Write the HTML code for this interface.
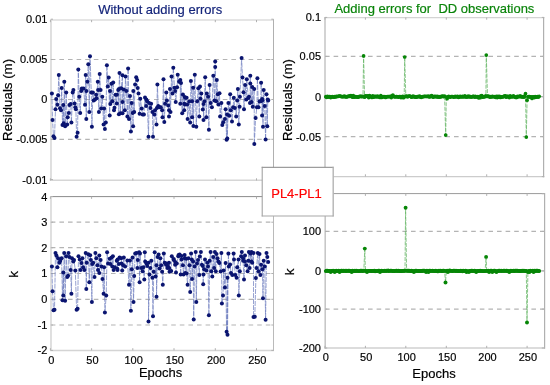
<!DOCTYPE html>
<html><head><meta charset="utf-8"><title>PL4-PL1</title>
<style>html,body{margin:0;padding:0;background:#fff;width:550px;height:385px;overflow:hidden;}svg{display:block;}</style>
</head><body>
<svg width="550" height="385" viewBox="0 0 550 385" font-family="'Liberation Sans', sans-serif" fill="#000">
<rect width="550" height="385" fill="#fff"/>
<line x1="50.8" y1="59.5" x2="273.5" y2="59.5" stroke="#b4b4b4" stroke-width="1.2" stroke-dasharray="4.6 4"/>
<line x1="50.8" y1="99.5" x2="273.5" y2="99.5" stroke="#b4b4b4" stroke-width="1.2" stroke-dasharray="4.6 4"/>
<line x1="50.8" y1="139.3" x2="273.5" y2="139.3" stroke="#b4b4b4" stroke-width="1.2" stroke-dasharray="4.6 4"/>
<line x1="50.2" y1="20" x2="274" y2="20" stroke="#dcdcdc" stroke-width="1.6"/>
<line x1="50.2" y1="180.3" x2="274" y2="180.3" stroke="#d6d6d6" stroke-width="1.5"/>
<line x1="51" y1="19.2" x2="51" y2="181" stroke="#d8d8d8" stroke-width="1.6"/>
<line x1="273.5" y1="19.2" x2="273.5" y2="181" stroke="#b0b0b0" stroke-width="1"/>
<line x1="50.4" y1="180.5" x2="50.4" y2="178.3" stroke="#b0b0b0"/>
<line x1="50.4" y1="20.0" x2="50.4" y2="22.2" stroke="#b0b0b0"/>
<line x1="91.6" y1="180.5" x2="91.6" y2="178.3" stroke="#b0b0b0"/>
<line x1="91.6" y1="20.0" x2="91.6" y2="22.2" stroke="#b0b0b0"/>
<line x1="132.8" y1="180.5" x2="132.8" y2="178.3" stroke="#b0b0b0"/>
<line x1="132.8" y1="20.0" x2="132.8" y2="22.2" stroke="#b0b0b0"/>
<line x1="174.0" y1="180.5" x2="174.0" y2="178.3" stroke="#b0b0b0"/>
<line x1="174.0" y1="20.0" x2="174.0" y2="22.2" stroke="#b0b0b0"/>
<line x1="215.3" y1="180.5" x2="215.3" y2="178.3" stroke="#b0b0b0"/>
<line x1="215.3" y1="20.0" x2="215.3" y2="22.2" stroke="#b0b0b0"/>
<line x1="256.5" y1="180.5" x2="256.5" y2="178.3" stroke="#b0b0b0"/>
<line x1="256.5" y1="20.0" x2="256.5" y2="22.2" stroke="#b0b0b0"/>
<line x1="50.8" y1="179.6" x2="53.0" y2="179.6" stroke="#b0b0b0"/>
<line x1="273.5" y1="179.6" x2="271.3" y2="179.6" stroke="#b0b0b0"/>
<text transform="translate(47.4,183.5) scale(1,1.05)" text-anchor="end" font-size="11" stroke="#000" stroke-width="0.18">-0.01</text>
<line x1="50.8" y1="139.3" x2="53.0" y2="139.3" stroke="#b0b0b0"/>
<line x1="273.5" y1="139.3" x2="271.3" y2="139.3" stroke="#b0b0b0"/>
<text transform="translate(47.4,143.2) scale(1,1.05)" text-anchor="end" font-size="11" stroke="#000" stroke-width="0.18">-0.005</text>
<line x1="50.8" y1="99.5" x2="53.0" y2="99.5" stroke="#b0b0b0"/>
<line x1="273.5" y1="99.5" x2="271.3" y2="99.5" stroke="#b0b0b0"/>
<text transform="translate(47.4,103.4) scale(1,1.05)" text-anchor="end" font-size="11" stroke="#000" stroke-width="0.18">0</text>
<line x1="50.8" y1="59.5" x2="53.0" y2="59.5" stroke="#b0b0b0"/>
<line x1="273.5" y1="59.5" x2="271.3" y2="59.5" stroke="#b0b0b0"/>
<text transform="translate(47.4,63.4) scale(1,1.05)" text-anchor="end" font-size="11" stroke="#000" stroke-width="0.18">0.005</text>
<line x1="50.8" y1="19.2" x2="53.0" y2="19.2" stroke="#b0b0b0"/>
<line x1="273.5" y1="19.2" x2="271.3" y2="19.2" stroke="#b0b0b0"/>
<text transform="translate(47.4,23.1) scale(1,1.05)" text-anchor="end" font-size="11" stroke="#000" stroke-width="0.18">0.01</text>
<line x1="50.8" y1="222.2" x2="273.5" y2="222.2" stroke="#b4b4b4" stroke-width="1.2" stroke-dasharray="4.6 4"/>
<line x1="50.8" y1="247.7" x2="273.5" y2="247.7" stroke="#b4b4b4" stroke-width="1.2" stroke-dasharray="4.6 4"/>
<line x1="50.8" y1="273.5" x2="273.5" y2="273.5" stroke="#b4b4b4" stroke-width="1.2" stroke-dasharray="4.6 4"/>
<line x1="50.8" y1="299.3" x2="273.5" y2="299.3" stroke="#b4b4b4" stroke-width="1.2" stroke-dasharray="4.6 4"/>
<line x1="50.8" y1="325.0" x2="273.5" y2="325.0" stroke="#b4b4b4" stroke-width="1.2" stroke-dasharray="4.6 4"/>
<line x1="50.2" y1="196.6" x2="274" y2="196.6" stroke="#8c8c8c" stroke-width="1"/>
<line x1="50.2" y1="350.4" x2="274" y2="350.4" stroke="#d4d4d4" stroke-width="1.5"/>
<line x1="51" y1="196" x2="51" y2="351" stroke="#d8d8d8" stroke-width="1.6"/>
<line x1="273.5" y1="196" x2="273.5" y2="351" stroke="#bababa" stroke-width="1"/>
<line x1="50.4" y1="350.4" x2="50.4" y2="348.2" stroke="#b0b0b0"/>
<line x1="50.4" y1="196.7" x2="50.4" y2="198.9" stroke="#b0b0b0"/>
<text transform="translate(51.2,363.6) scale(1,1.05)" text-anchor="middle" font-size="11" stroke="#000" stroke-width="0.18">0</text>
<line x1="91.6" y1="350.4" x2="91.6" y2="348.2" stroke="#b0b0b0"/>
<line x1="91.6" y1="196.7" x2="91.6" y2="198.9" stroke="#b0b0b0"/>
<text transform="translate(92.4,363.6) scale(1,1.05)" text-anchor="middle" font-size="11" stroke="#000" stroke-width="0.18">50</text>
<line x1="132.8" y1="350.4" x2="132.8" y2="348.2" stroke="#b0b0b0"/>
<line x1="132.8" y1="196.7" x2="132.8" y2="198.9" stroke="#b0b0b0"/>
<text transform="translate(133.6,363.6) scale(1,1.05)" text-anchor="middle" font-size="11" stroke="#000" stroke-width="0.18">100</text>
<line x1="174.0" y1="350.4" x2="174.0" y2="348.2" stroke="#b0b0b0"/>
<line x1="174.0" y1="196.7" x2="174.0" y2="198.9" stroke="#b0b0b0"/>
<text transform="translate(174.8,363.6) scale(1,1.05)" text-anchor="middle" font-size="11" stroke="#000" stroke-width="0.18">150</text>
<line x1="215.3" y1="350.4" x2="215.3" y2="348.2" stroke="#b0b0b0"/>
<line x1="215.3" y1="196.7" x2="215.3" y2="198.9" stroke="#b0b0b0"/>
<text transform="translate(216.1,363.6) scale(1,1.05)" text-anchor="middle" font-size="11" stroke="#000" stroke-width="0.18">200</text>
<line x1="256.5" y1="350.4" x2="256.5" y2="348.2" stroke="#b0b0b0"/>
<line x1="256.5" y1="196.7" x2="256.5" y2="198.9" stroke="#b0b0b0"/>
<text transform="translate(257.3,363.6) scale(1,1.05)" text-anchor="middle" font-size="11" stroke="#000" stroke-width="0.18">250</text>
<line x1="50.8" y1="350.4" x2="53.0" y2="350.4" stroke="#b0b0b0"/>
<line x1="273.5" y1="350.4" x2="271.3" y2="350.4" stroke="#b0b0b0"/>
<text transform="translate(47.4,354.3) scale(1,1.05)" text-anchor="end" font-size="11" stroke="#000" stroke-width="0.18">-2</text>
<line x1="50.8" y1="325.0" x2="53.0" y2="325.0" stroke="#b0b0b0"/>
<line x1="273.5" y1="325.0" x2="271.3" y2="325.0" stroke="#b0b0b0"/>
<text transform="translate(47.4,328.9) scale(1,1.05)" text-anchor="end" font-size="11" stroke="#000" stroke-width="0.18">-1</text>
<line x1="50.8" y1="299.3" x2="53.0" y2="299.3" stroke="#b0b0b0"/>
<line x1="273.5" y1="299.3" x2="271.3" y2="299.3" stroke="#b0b0b0"/>
<text transform="translate(47.4,303.2) scale(1,1.05)" text-anchor="end" font-size="11" stroke="#000" stroke-width="0.18">0</text>
<line x1="50.8" y1="273.5" x2="53.0" y2="273.5" stroke="#b0b0b0"/>
<line x1="273.5" y1="273.5" x2="271.3" y2="273.5" stroke="#b0b0b0"/>
<text transform="translate(47.4,277.4) scale(1,1.05)" text-anchor="end" font-size="11" stroke="#000" stroke-width="0.18">1</text>
<line x1="50.8" y1="247.7" x2="53.0" y2="247.7" stroke="#b0b0b0"/>
<line x1="273.5" y1="247.7" x2="271.3" y2="247.7" stroke="#b0b0b0"/>
<text transform="translate(47.4,251.6) scale(1,1.05)" text-anchor="end" font-size="11" stroke="#000" stroke-width="0.18">2</text>
<line x1="50.8" y1="222.2" x2="53.0" y2="222.2" stroke="#b0b0b0"/>
<line x1="273.5" y1="222.2" x2="271.3" y2="222.2" stroke="#b0b0b0"/>
<text transform="translate(47.4,226.1) scale(1,1.05)" text-anchor="end" font-size="11" stroke="#000" stroke-width="0.18">3</text>
<line x1="50.8" y1="196.6" x2="53.0" y2="196.6" stroke="#b0b0b0"/>
<line x1="273.5" y1="196.6" x2="271.3" y2="196.6" stroke="#b0b0b0"/>
<text transform="translate(47.4,200.5) scale(1,1.05)" text-anchor="end" font-size="11" stroke="#000" stroke-width="0.18">4</text>
<line x1="325.0" y1="56.4" x2="544.0" y2="56.4" stroke="#b4b4b4" stroke-width="1.2" stroke-dasharray="4.6 4"/>
<line x1="325.0" y1="96.7" x2="544.0" y2="96.7" stroke="#b4b4b4" stroke-width="1.2" stroke-dasharray="4.6 4"/>
<line x1="325.0" y1="136.6" x2="544.0" y2="136.6" stroke="#b4b4b4" stroke-width="1.2" stroke-dasharray="4.6 4"/>
<line x1="324.3" y1="17.6" x2="544.5" y2="17.6" stroke="#d4d4d4" stroke-width="1.3"/>
<line x1="324.3" y1="176.7" x2="544.5" y2="176.7" stroke="#cccccc" stroke-width="1.3"/>
<line x1="325" y1="17" x2="325" y2="177.3" stroke="#c4c4c4" stroke-width="1.5"/>
<line x1="543.6" y1="17" x2="543.6" y2="177.3" stroke="#b0b0b0" stroke-width="1.2"/>
<line x1="325.0" y1="176.5" x2="325.0" y2="174.3" stroke="#b0b0b0"/>
<line x1="325.0" y1="17.5" x2="325.0" y2="19.7" stroke="#b0b0b0"/>
<line x1="365.4" y1="176.5" x2="365.4" y2="174.3" stroke="#b0b0b0"/>
<line x1="365.4" y1="17.5" x2="365.4" y2="19.7" stroke="#b0b0b0"/>
<line x1="405.8" y1="176.5" x2="405.8" y2="174.3" stroke="#b0b0b0"/>
<line x1="405.8" y1="17.5" x2="405.8" y2="19.7" stroke="#b0b0b0"/>
<line x1="446.3" y1="176.5" x2="446.3" y2="174.3" stroke="#b0b0b0"/>
<line x1="446.3" y1="17.5" x2="446.3" y2="19.7" stroke="#b0b0b0"/>
<line x1="486.7" y1="176.5" x2="486.7" y2="174.3" stroke="#b0b0b0"/>
<line x1="486.7" y1="17.5" x2="486.7" y2="19.7" stroke="#b0b0b0"/>
<line x1="527.1" y1="176.5" x2="527.1" y2="174.3" stroke="#b0b0b0"/>
<line x1="527.1" y1="17.5" x2="527.1" y2="19.7" stroke="#b0b0b0"/>
<line x1="325.0" y1="176.6" x2="327.2" y2="176.6" stroke="#b0b0b0"/>
<line x1="544.0" y1="176.6" x2="541.8" y2="176.6" stroke="#b0b0b0"/>
<text transform="translate(321.0,180.5) scale(1,1.05)" text-anchor="end" font-size="11" stroke="#000" stroke-width="0.18">-0.1</text>
<line x1="325.0" y1="136.6" x2="327.2" y2="136.6" stroke="#b0b0b0"/>
<line x1="544.0" y1="136.6" x2="541.8" y2="136.6" stroke="#b0b0b0"/>
<text transform="translate(321.0,140.5) scale(1,1.05)" text-anchor="end" font-size="11" stroke="#000" stroke-width="0.18">-0.05</text>
<line x1="325.0" y1="96.7" x2="327.2" y2="96.7" stroke="#b0b0b0"/>
<line x1="544.0" y1="96.7" x2="541.8" y2="96.7" stroke="#b0b0b0"/>
<text transform="translate(321.0,100.6) scale(1,1.05)" text-anchor="end" font-size="11" stroke="#000" stroke-width="0.18">0</text>
<line x1="325.0" y1="56.4" x2="327.2" y2="56.4" stroke="#b0b0b0"/>
<line x1="544.0" y1="56.4" x2="541.8" y2="56.4" stroke="#b0b0b0"/>
<text transform="translate(321.0,60.3) scale(1,1.05)" text-anchor="end" font-size="11" stroke="#000" stroke-width="0.18">0.05</text>
<line x1="325.0" y1="17.4" x2="327.2" y2="17.4" stroke="#b0b0b0"/>
<line x1="544.0" y1="17.4" x2="541.8" y2="17.4" stroke="#b0b0b0"/>
<text transform="translate(321.0,21.3) scale(1,1.05)" text-anchor="end" font-size="11" stroke="#000" stroke-width="0.18">0.1</text>
<line x1="325.0" y1="231.4" x2="544.0" y2="231.4" stroke="#b4b4b4" stroke-width="1.2" stroke-dasharray="4.6 4"/>
<line x1="325.0" y1="270.9" x2="544.0" y2="270.9" stroke="#b4b4b4" stroke-width="1.2" stroke-dasharray="4.6 4"/>
<line x1="325.0" y1="309.1" x2="544.0" y2="309.1" stroke="#b4b4b4" stroke-width="1.2" stroke-dasharray="4.6 4"/>
<line x1="324.3" y1="193.6" x2="545" y2="193.6" stroke="#9a9a9a" stroke-width="1"/>
<line x1="324.3" y1="348" x2="545" y2="348" stroke="#d0d0d0" stroke-width="1.4"/>
<line x1="325.2" y1="193" x2="325.2" y2="348.7" stroke="#c4c4c4" stroke-width="1.5"/>
<line x1="544.6" y1="193" x2="544.6" y2="348.7" stroke="#b0b0b0" stroke-width="1.2"/>
<line x1="325.0" y1="348.0" x2="325.0" y2="345.8" stroke="#b0b0b0"/>
<line x1="325.0" y1="193.7" x2="325.0" y2="195.9" stroke="#b0b0b0"/>
<text transform="translate(325.8,361.3) scale(1,1.05)" text-anchor="middle" font-size="11" stroke="#000" stroke-width="0.18">0</text>
<line x1="365.4" y1="348.0" x2="365.4" y2="345.8" stroke="#b0b0b0"/>
<line x1="365.4" y1="193.7" x2="365.4" y2="195.9" stroke="#b0b0b0"/>
<text transform="translate(366.2,361.3) scale(1,1.05)" text-anchor="middle" font-size="11" stroke="#000" stroke-width="0.18">50</text>
<line x1="405.8" y1="348.0" x2="405.8" y2="345.8" stroke="#b0b0b0"/>
<line x1="405.8" y1="193.7" x2="405.8" y2="195.9" stroke="#b0b0b0"/>
<text transform="translate(406.6,361.3) scale(1,1.05)" text-anchor="middle" font-size="11" stroke="#000" stroke-width="0.18">100</text>
<line x1="446.3" y1="348.0" x2="446.3" y2="345.8" stroke="#b0b0b0"/>
<line x1="446.3" y1="193.7" x2="446.3" y2="195.9" stroke="#b0b0b0"/>
<text transform="translate(447.1,361.3) scale(1,1.05)" text-anchor="middle" font-size="11" stroke="#000" stroke-width="0.18">150</text>
<line x1="486.7" y1="348.0" x2="486.7" y2="345.8" stroke="#b0b0b0"/>
<line x1="486.7" y1="193.7" x2="486.7" y2="195.9" stroke="#b0b0b0"/>
<text transform="translate(487.5,361.3) scale(1,1.05)" text-anchor="middle" font-size="11" stroke="#000" stroke-width="0.18">200</text>
<line x1="527.1" y1="348.0" x2="527.1" y2="345.8" stroke="#b0b0b0"/>
<line x1="527.1" y1="193.7" x2="527.1" y2="195.9" stroke="#b0b0b0"/>
<text transform="translate(527.9,361.3) scale(1,1.05)" text-anchor="middle" font-size="11" stroke="#000" stroke-width="0.18">250</text>
<line x1="325.0" y1="348.0" x2="327.2" y2="348.0" stroke="#b0b0b0"/>
<line x1="544.0" y1="348.0" x2="541.8" y2="348.0" stroke="#b0b0b0"/>
<text transform="translate(321.0,351.9) scale(1,1.05)" text-anchor="end" font-size="11" stroke="#000" stroke-width="0.18">-200</text>
<line x1="325.0" y1="309.1" x2="327.2" y2="309.1" stroke="#b0b0b0"/>
<line x1="544.0" y1="309.1" x2="541.8" y2="309.1" stroke="#b0b0b0"/>
<text transform="translate(321.0,313.0) scale(1,1.05)" text-anchor="end" font-size="11" stroke="#000" stroke-width="0.18">-100</text>
<line x1="325.0" y1="270.9" x2="327.2" y2="270.9" stroke="#b0b0b0"/>
<line x1="544.0" y1="270.9" x2="541.8" y2="270.9" stroke="#b0b0b0"/>
<text transform="translate(321.0,274.8) scale(1,1.05)" text-anchor="end" font-size="11" stroke="#000" stroke-width="0.18">0</text>
<line x1="325.0" y1="231.4" x2="327.2" y2="231.4" stroke="#b0b0b0"/>
<line x1="544.0" y1="231.4" x2="541.8" y2="231.4" stroke="#b0b0b0"/>
<text transform="translate(321.0,235.3) scale(1,1.05)" text-anchor="end" font-size="11" stroke="#000" stroke-width="0.18">100</text>
<line x1="325.0" y1="193.7" x2="327.2" y2="193.7" stroke="#b0b0b0"/>
<line x1="544.0" y1="193.7" x2="541.8" y2="193.7" stroke="#b0b0b0"/>
<text transform="translate(321.0,197.6) scale(1,1.05)" text-anchor="end" font-size="11" stroke="#000" stroke-width="0.18">200</text>
<polyline points="51.9,93.5 52.5,119.9 53.5,136.3 54.5,137.9 55.5,109.3 56.2,99.1 57.4,104.7 58.1,95.2 58.8,74.9 60.0,108.2 61.0,110.3 61.7,88.1 62.5,124.9 63.3,105.1 63.8,123.3 64.3,81.8 65.1,126.2 66.2,92.6 67.2,124.6 67.7,117.3 68.8,112.9 69.4,105.1 70.7,104.1 71.4,122.5 72.7,92.6 73.4,89.9 74.6,103.4 75.3,107.3 75.9,109.3 76.6,136.8 77.6,132.7 78.3,69.5 79.2,96.8 80.2,112.9 81.2,90.9 81.8,88.6 83.5,88.6 85.0,104.7 85.7,74.9 86.3,119.0 86.4,90.9 87.4,81.8 88.3,64.3 89.3,111.9 90.0,56.2 91.3,92.6 91.9,126.8 92.9,92.6 93.7,100.5 95.0,99.5 96.1,94.8 96.5,98.3 97.8,81.8 98.1,89.9 98.9,111.9 99.7,74.0 100.6,89.9 101.2,108.6 102.3,96.8 103.6,124.6 104.1,108.6 104.9,129.0 105.8,122.5 106.9,65.2 107.8,86.4 108.7,77.5 109.7,115.5 110.0,90.9 110.3,104.1 111.4,83.8 112.3,101.2 113.2,82.5 114.0,110.3 114.5,107.7 115.6,94.8 116.8,103.4 116.9,94.8 118.2,89.9 118.9,114.2 119.0,89.0 119.5,73.1 120.5,113.2 121.2,88.3 122.5,75.3 122.5,102.1 122.5,113.2 123.8,89.6 124.8,110.3 125.5,76.6 126.4,90.9 127.4,116.4 128.1,68.6 129.0,119.0 130.0,96.1 130.9,131.6 131.6,103.1 132.6,112.9 133.1,126.2 133.3,90.9 134.2,112.1 135.1,84.4 136.2,77.3 137.2,80.1 137.7,88.1 138.5,93.5 139.6,113.8 140.3,98.7 141.7,108.6 142.6,114.5 143.9,114.5 145.0,97.4 146.1,106.0 146.3,99.4 147.2,101.2 148.5,136.8 149.1,103.1 150.4,108.0 151.1,103.8 152.4,111.9 153.0,136.8 154.3,114.5 155.0,110.3 156.5,124.6 156.9,108.0 157.4,84.4 158.2,106.0 159.5,107.3 160.8,107.3 162.1,110.3 162.5,117.3 163.5,79.2 164.3,122.0 165.1,103.8 166.3,92.6 166.9,100.5 168.2,105.6 169.0,110.3 169.0,116.4 170.0,89.0 170.5,111.9 171.5,76.6 172.5,93.5 173.3,67.8 174.5,87.7 175.1,90.9 175.7,102.1 177.1,87.3 177.7,74.7 179.0,81.8 180.3,80.1 180.3,103.8 181.0,83.1 182.2,113.2 182.9,94.5 184.2,103.8 184.2,110.3 184.6,97.0 185.0,104.4 185.5,97.8 186.6,97.8 187.2,104.4 187.6,119.0 189.2,101.5 190.2,122.5 190.9,80.9 192.1,101.2 192.1,117.3 193.1,87.7 193.4,125.9 194.8,74.7 196.3,126.8 197.2,101.2 198.3,88.3 199.3,116.4 200.0,86.4 200.5,98.7 201.3,93.5 202.8,109.5 203.5,104.1 203.5,119.9 204.5,101.2 205.2,77.3 206.3,117.3 206.8,93.5 208.1,96.8 208.9,129.8 209.6,85.1 210.6,103.1 211.9,107.3 213.3,75.7 214.5,100.5 215.2,61.4 215.2,66.9 216.2,101.2 216.8,80.1 217.8,94.2 218.4,104.4 219.5,93.2 220.1,116.4 221.4,103.1 222.3,125.1 223.2,122.3 224.9,119.0 225.6,109.3 226.6,139.8 227.1,114.5 227.3,138.5 228.4,103.1 229.2,115.8 230.2,94.2 230.8,110.3 232.0,121.6 233.1,107.3 233.8,97.8 234.9,108.0 236.2,116.4 237.2,100.5 237.9,89.0 238.8,124.6 239.6,106.7 239.9,96.8 241.6,58.1 242.5,77.5 243.5,92.2 244.0,109.3 245.1,85.1 246.3,99.5 246.8,79.2 248.3,97.9 249.0,96.8 250.0,103.1 250.3,75.7 250.3,83.5 251.5,102.1 252.2,87.0 252.8,106.7 254.2,89.0 254.3,144.1 255.6,118.1 256.9,107.3 257.4,78.3 258.5,107.3 259.5,101.5 260.8,101.2 261.1,82.7 262.1,99.1 262.1,115.5 262.4,100.2 263.0,126.8 263.7,90.0 264.7,106.0 265.6,139.4 266.5,94.2 267.3,126.2 267.8,99.4 268.2,100.5" fill="none" stroke="#6a7abd" stroke-width="0.7" stroke-dasharray="5 1"/>
<g fill="#0a1470"><circle cx="51.9" cy="93.5" r="2"/><circle cx="52.5" cy="119.9" r="2"/><circle cx="53.5" cy="136.3" r="2"/><circle cx="54.5" cy="137.9" r="2"/><circle cx="55.5" cy="109.3" r="2"/><circle cx="56.2" cy="99.1" r="2"/><circle cx="57.4" cy="104.7" r="2"/><circle cx="58.1" cy="95.2" r="2"/><circle cx="58.8" cy="74.9" r="2"/><circle cx="60.0" cy="108.2" r="2"/><circle cx="61.0" cy="110.3" r="2"/><circle cx="61.7" cy="88.1" r="2"/><circle cx="62.5" cy="124.9" r="2"/><circle cx="63.3" cy="105.1" r="2"/><circle cx="63.8" cy="123.3" r="2"/><circle cx="64.3" cy="81.8" r="2"/><circle cx="65.1" cy="126.2" r="2"/><circle cx="66.2" cy="92.6" r="2"/><circle cx="67.2" cy="124.6" r="2"/><circle cx="67.7" cy="117.3" r="2"/><circle cx="68.8" cy="112.9" r="2"/><circle cx="69.4" cy="105.1" r="2"/><circle cx="70.7" cy="104.1" r="2"/><circle cx="71.4" cy="122.5" r="2"/><circle cx="72.7" cy="92.6" r="2"/><circle cx="73.4" cy="89.9" r="2"/><circle cx="74.6" cy="103.4" r="2"/><circle cx="75.3" cy="107.3" r="2"/><circle cx="75.9" cy="109.3" r="2"/><circle cx="76.6" cy="136.8" r="2"/><circle cx="77.6" cy="132.7" r="2"/><circle cx="78.3" cy="69.5" r="2"/><circle cx="79.2" cy="96.8" r="2"/><circle cx="80.2" cy="112.9" r="2"/><circle cx="81.2" cy="90.9" r="2"/><circle cx="81.8" cy="88.6" r="2"/><circle cx="83.5" cy="88.6" r="2"/><circle cx="85.0" cy="104.7" r="2"/><circle cx="85.7" cy="74.9" r="2"/><circle cx="86.3" cy="119.0" r="2"/><circle cx="86.4" cy="90.9" r="2"/><circle cx="87.4" cy="81.8" r="2"/><circle cx="88.3" cy="64.3" r="2"/><circle cx="89.3" cy="111.9" r="2"/><circle cx="90.0" cy="56.2" r="2"/><circle cx="91.3" cy="92.6" r="2"/><circle cx="91.9" cy="126.8" r="2"/><circle cx="92.9" cy="92.6" r="2"/><circle cx="93.7" cy="100.5" r="2"/><circle cx="95.0" cy="99.5" r="2"/><circle cx="96.1" cy="94.8" r="2"/><circle cx="96.5" cy="98.3" r="2"/><circle cx="97.8" cy="81.8" r="2"/><circle cx="98.1" cy="89.9" r="2"/><circle cx="98.9" cy="111.9" r="2"/><circle cx="99.7" cy="74.0" r="2"/><circle cx="100.6" cy="89.9" r="2"/><circle cx="101.2" cy="108.6" r="2"/><circle cx="102.3" cy="96.8" r="2"/><circle cx="103.6" cy="124.6" r="2"/><circle cx="104.1" cy="108.6" r="2"/><circle cx="104.9" cy="129.0" r="2"/><circle cx="105.8" cy="122.5" r="2"/><circle cx="106.9" cy="65.2" r="2"/><circle cx="107.8" cy="86.4" r="2"/><circle cx="108.7" cy="77.5" r="2"/><circle cx="109.7" cy="115.5" r="2"/><circle cx="110.0" cy="90.9" r="2"/><circle cx="110.3" cy="104.1" r="2"/><circle cx="111.4" cy="83.8" r="2"/><circle cx="112.3" cy="101.2" r="2"/><circle cx="113.2" cy="82.5" r="2"/><circle cx="114.0" cy="110.3" r="2"/><circle cx="114.5" cy="107.7" r="2"/><circle cx="115.6" cy="94.8" r="2"/><circle cx="116.8" cy="103.4" r="2"/><circle cx="116.9" cy="94.8" r="2"/><circle cx="118.2" cy="89.9" r="2"/><circle cx="118.9" cy="114.2" r="2"/><circle cx="119.0" cy="89.0" r="2"/><circle cx="119.5" cy="73.1" r="2"/><circle cx="120.5" cy="113.2" r="2"/><circle cx="121.2" cy="88.3" r="2"/><circle cx="122.5" cy="75.3" r="2"/><circle cx="122.5" cy="102.1" r="2"/><circle cx="122.5" cy="113.2" r="2"/><circle cx="123.8" cy="89.6" r="2"/><circle cx="124.8" cy="110.3" r="2"/><circle cx="125.5" cy="76.6" r="2"/><circle cx="126.4" cy="90.9" r="2"/><circle cx="127.4" cy="116.4" r="2"/><circle cx="128.1" cy="68.6" r="2"/><circle cx="129.0" cy="119.0" r="2"/><circle cx="130.0" cy="96.1" r="2"/><circle cx="130.9" cy="131.6" r="2"/><circle cx="131.6" cy="103.1" r="2"/><circle cx="132.6" cy="112.9" r="2"/><circle cx="133.1" cy="126.2" r="2"/><circle cx="133.3" cy="90.9" r="2"/><circle cx="134.2" cy="112.1" r="2"/><circle cx="135.1" cy="84.4" r="2"/><circle cx="136.2" cy="77.3" r="2"/><circle cx="137.2" cy="80.1" r="2"/><circle cx="137.7" cy="88.1" r="2"/><circle cx="138.5" cy="93.5" r="2"/><circle cx="139.6" cy="113.8" r="2"/><circle cx="140.3" cy="98.7" r="2"/><circle cx="141.7" cy="108.6" r="2"/><circle cx="142.6" cy="114.5" r="2"/><circle cx="143.9" cy="114.5" r="2"/><circle cx="145.0" cy="97.4" r="2"/><circle cx="146.1" cy="106.0" r="2"/><circle cx="146.3" cy="99.4" r="2"/><circle cx="147.2" cy="101.2" r="2"/><circle cx="148.5" cy="136.8" r="2"/><circle cx="149.1" cy="103.1" r="2"/><circle cx="150.4" cy="108.0" r="2"/><circle cx="151.1" cy="103.8" r="2"/><circle cx="152.4" cy="111.9" r="2"/><circle cx="153.0" cy="136.8" r="2"/><circle cx="154.3" cy="114.5" r="2"/><circle cx="155.0" cy="110.3" r="2"/><circle cx="156.5" cy="124.6" r="2"/><circle cx="156.9" cy="108.0" r="2"/><circle cx="157.4" cy="84.4" r="2"/><circle cx="158.2" cy="106.0" r="2"/><circle cx="159.5" cy="107.3" r="2"/><circle cx="160.8" cy="107.3" r="2"/><circle cx="162.1" cy="110.3" r="2"/><circle cx="162.5" cy="117.3" r="2"/><circle cx="163.5" cy="79.2" r="2"/><circle cx="164.3" cy="122.0" r="2"/><circle cx="165.1" cy="103.8" r="2"/><circle cx="166.3" cy="92.6" r="2"/><circle cx="166.9" cy="100.5" r="2"/><circle cx="168.2" cy="105.6" r="2"/><circle cx="169.0" cy="110.3" r="2"/><circle cx="169.0" cy="116.4" r="2"/><circle cx="170.0" cy="89.0" r="2"/><circle cx="170.5" cy="111.9" r="2"/><circle cx="171.5" cy="76.6" r="2"/><circle cx="172.5" cy="93.5" r="2"/><circle cx="173.3" cy="67.8" r="2"/><circle cx="174.5" cy="87.7" r="2"/><circle cx="175.1" cy="90.9" r="2"/><circle cx="175.7" cy="102.1" r="2"/><circle cx="177.1" cy="87.3" r="2"/><circle cx="177.7" cy="74.7" r="2"/><circle cx="179.0" cy="81.8" r="2"/><circle cx="180.3" cy="80.1" r="2"/><circle cx="180.3" cy="103.8" r="2"/><circle cx="181.0" cy="83.1" r="2"/><circle cx="182.2" cy="113.2" r="2"/><circle cx="182.9" cy="94.5" r="2"/><circle cx="184.2" cy="103.8" r="2"/><circle cx="184.2" cy="110.3" r="2"/><circle cx="184.6" cy="97.0" r="2"/><circle cx="185.0" cy="104.4" r="2"/><circle cx="185.5" cy="97.8" r="2"/><circle cx="186.6" cy="97.8" r="2"/><circle cx="187.2" cy="104.4" r="2"/><circle cx="187.6" cy="119.0" r="2"/><circle cx="189.2" cy="101.5" r="2"/><circle cx="190.2" cy="122.5" r="2"/><circle cx="190.9" cy="80.9" r="2"/><circle cx="192.1" cy="101.2" r="2"/><circle cx="192.1" cy="117.3" r="2"/><circle cx="193.1" cy="87.7" r="2"/><circle cx="193.4" cy="125.9" r="2"/><circle cx="194.8" cy="74.7" r="2"/><circle cx="196.3" cy="126.8" r="2"/><circle cx="197.2" cy="101.2" r="2"/><circle cx="198.3" cy="88.3" r="2"/><circle cx="199.3" cy="116.4" r="2"/><circle cx="200.0" cy="86.4" r="2"/><circle cx="200.5" cy="98.7" r="2"/><circle cx="201.3" cy="93.5" r="2"/><circle cx="202.8" cy="109.5" r="2"/><circle cx="203.5" cy="104.1" r="2"/><circle cx="203.5" cy="119.9" r="2"/><circle cx="204.5" cy="101.2" r="2"/><circle cx="205.2" cy="77.3" r="2"/><circle cx="206.3" cy="117.3" r="2"/><circle cx="206.8" cy="93.5" r="2"/><circle cx="208.1" cy="96.8" r="2"/><circle cx="208.9" cy="129.8" r="2"/><circle cx="209.6" cy="85.1" r="2"/><circle cx="210.6" cy="103.1" r="2"/><circle cx="211.9" cy="107.3" r="2"/><circle cx="213.3" cy="75.7" r="2"/><circle cx="214.5" cy="100.5" r="2"/><circle cx="215.2" cy="61.4" r="2"/><circle cx="215.2" cy="66.9" r="2"/><circle cx="216.2" cy="101.2" r="2"/><circle cx="216.8" cy="80.1" r="2"/><circle cx="217.8" cy="94.2" r="2"/><circle cx="218.4" cy="104.4" r="2"/><circle cx="219.5" cy="93.2" r="2"/><circle cx="220.1" cy="116.4" r="2"/><circle cx="221.4" cy="103.1" r="2"/><circle cx="222.3" cy="125.1" r="2"/><circle cx="223.2" cy="122.3" r="2"/><circle cx="224.9" cy="119.0" r="2"/><circle cx="225.6" cy="109.3" r="2"/><circle cx="226.6" cy="139.8" r="2"/><circle cx="227.1" cy="114.5" r="2"/><circle cx="227.3" cy="138.5" r="2"/><circle cx="228.4" cy="103.1" r="2"/><circle cx="229.2" cy="115.8" r="2"/><circle cx="230.2" cy="94.2" r="2"/><circle cx="230.8" cy="110.3" r="2"/><circle cx="232.0" cy="121.6" r="2"/><circle cx="233.1" cy="107.3" r="2"/><circle cx="233.8" cy="97.8" r="2"/><circle cx="234.9" cy="108.0" r="2"/><circle cx="236.2" cy="116.4" r="2"/><circle cx="237.2" cy="100.5" r="2"/><circle cx="237.9" cy="89.0" r="2"/><circle cx="238.8" cy="124.6" r="2"/><circle cx="239.6" cy="106.7" r="2"/><circle cx="239.9" cy="96.8" r="2"/><circle cx="241.6" cy="58.1" r="2"/><circle cx="242.5" cy="77.5" r="2"/><circle cx="243.5" cy="92.2" r="2"/><circle cx="244.0" cy="109.3" r="2"/><circle cx="245.1" cy="85.1" r="2"/><circle cx="246.3" cy="99.5" r="2"/><circle cx="246.8" cy="79.2" r="2"/><circle cx="248.3" cy="97.9" r="2"/><circle cx="249.0" cy="96.8" r="2"/><circle cx="250.0" cy="103.1" r="2"/><circle cx="250.3" cy="75.7" r="2"/><circle cx="250.3" cy="83.5" r="2"/><circle cx="251.5" cy="102.1" r="2"/><circle cx="252.2" cy="87.0" r="2"/><circle cx="252.8" cy="106.7" r="2"/><circle cx="254.2" cy="89.0" r="2"/><circle cx="254.3" cy="144.1" r="2"/><circle cx="255.6" cy="118.1" r="2"/><circle cx="256.9" cy="107.3" r="2"/><circle cx="257.4" cy="78.3" r="2"/><circle cx="258.5" cy="107.3" r="2"/><circle cx="259.5" cy="101.5" r="2"/><circle cx="260.8" cy="101.2" r="2"/><circle cx="261.1" cy="82.7" r="2"/><circle cx="262.1" cy="99.1" r="2"/><circle cx="262.1" cy="115.5" r="2"/><circle cx="262.4" cy="100.2" r="2"/><circle cx="263.0" cy="126.8" r="2"/><circle cx="263.7" cy="90.0" r="2"/><circle cx="264.7" cy="106.0" r="2"/><circle cx="265.6" cy="139.4" r="2"/><circle cx="266.5" cy="94.2" r="2"/><circle cx="267.3" cy="126.2" r="2"/><circle cx="267.8" cy="99.4" r="2"/><circle cx="268.2" cy="100.5" r="2"/></g>
<polyline points="51.9,266.6 52.5,291.2 53.5,310.3 54.5,309.7 55.5,253.0 56.4,255.6 57.4,267.3 58.1,258.2 59.4,262.7 60.3,260.8 61.6,258.2 62.5,300.3 63.3,272.5 63.3,295.4 64.2,253.0 65.1,300.8 66.2,256.2 67.2,277.0 68.1,275.7 68.5,253.0 69.4,256.9 70.7,269.9 71.4,293.8 72.0,258.2 73.3,261.4 74.0,260.1 75.3,270.5 76.6,309.7 77.6,308.8 78.5,256.2 79.8,259.5 80.5,269.9 81.5,263.1 82.4,258.2 83.1,267.3 84.4,269.9 85.7,253.0 86.3,289.1 86.7,262.7 88.3,254.3 89.3,282.2 90.2,255.3 90.9,260.1 91.9,301.9 92.2,264.0 93.2,262.7 94.5,277.0 95.4,253.0 96.3,258.2 97.4,265.3 98.0,269.9 99.3,255.6 99.3,273.1 100.6,260.1 101.5,266.6 102.5,279.0 103.6,293.8 104.1,267.3 104.9,312.5 106.2,295.6 107.1,252.3 108.0,263.4 109.7,258.8 110.3,264.0 111.6,257.5 112.3,266.6 112.9,256.2 113.6,269.9 114.9,267.3 116.8,260.8 117.3,268.8 117.5,269.9 117.6,259.5 118.9,264.0 119.6,257.5 121.2,258.2 121.5,263.5 122.2,270.5 123.1,265.3 123.8,257.5 125.1,266.6 127.4,260.5 129.0,284.8 130.0,260.5 130.9,310.7 131.8,269.2 132.6,257.5 133.5,301.9 134.2,276.1 135.2,253.6 136.5,253.0 137.4,267.9 137.8,260.1 139.1,252.3 139.6,282.2 140.0,253.6 141.3,267.9 142.6,271.2 143.3,267.3 144.3,279.6 144.8,252.3 145.2,261.4 146.5,263.4 147.2,266.0 148.5,262.7 148.5,321.4 149.5,274.4 150.4,267.9 151.3,260.8 152.4,277.7 153.0,316.2 153.7,271.8 154.7,252.3 155.6,276.4 156.5,265.3 156.5,296.7 157.6,256.9 158.6,254.5 159.5,268.6 160.4,258.2 161.2,265.3 162.1,271.8 162.8,284.8 163.8,253.6 164.7,262.7 166.0,264.7 166.4,263.4 167.3,267.9 167.9,266.0 169.0,262.7 169.2,268.0 169.5,271.8 171.2,270.9 171.8,256.2 173.7,259.0 173.8,260.1 175.1,264.7 175.2,262.0 176.0,272.5 176.8,263.4 178.3,256.2 178.6,255.0 179.6,254.5 180.7,274.4 181.5,256.0 181.6,259.5 182.9,265.3 183.5,274.4 184.6,254.9 184.8,258.2 185.3,273.1 186.3,258.8 186.6,273.5 187.6,284.8 188.5,258.2 189.5,265.3 190.2,292.0 191.1,253.6 191.8,259.5 192.1,279.0 193.1,261.4 193.7,319.6 194.6,266.6 195.7,251.9 196.3,301.9 197.0,263.4 198.0,260.1 199.3,275.1 199.8,256.6 200.9,251.9 201.9,264.7 202.8,266.0 203.2,284.2 203.5,274.4 204.1,269.2 205.0,259.5 206.3,270.5 207.4,262.7 208.0,266.6 208.9,315.3 209.7,260.8 210.6,251.9 211.3,271.2 212.3,276.4 213.2,256.9 214.1,267.9 214.9,251.9 215.8,271.2 216.5,254.0 217.5,258.2 218.4,261.4 219.3,263.1 220.6,271.4 221.4,253.0 221.9,303.6 223.0,295.5 223.6,270.5 224.9,287.4 225.6,263.1 226.6,331.8 227.5,277.7 227.5,334.8 228.4,253.6 228.8,266.6 230.1,264.4 231.0,273.1 232.3,275.1 233.6,253.6 234.0,259.5 235.3,275.1 236.6,277.7 237.2,267.3 238.5,259.5 238.8,295.5 239.8,271.2 241.1,256.2 241.8,251.9 243.1,258.2 243.1,260.8 244.0,279.6 245.0,255.6 245.0,261.4 246.3,265.3 247.6,271.2 248.3,260.8 248.9,251.9 249.6,267.9 250.5,253.6 251.3,261.4 251.5,251.9 252.2,262.7 253.5,253.0 253.5,317.0 254.8,316.8 255.9,277.9 256.5,267.9 257.8,253.0 258.5,271.2 259.5,254.0 260.4,275.1 261.1,264.7 262.4,269.2 263.0,298.2 263.7,260.8 264.7,266.6 265.6,319.8 266.5,253.0 267.3,256.9 268.2,262.1" fill="none" stroke="#6a7abd" stroke-width="0.7" stroke-dasharray="5 1"/>
<g fill="#0a1470"><circle cx="51.9" cy="266.6" r="2"/><circle cx="52.5" cy="291.2" r="2"/><circle cx="53.5" cy="310.3" r="2"/><circle cx="54.5" cy="309.7" r="2"/><circle cx="55.5" cy="253.0" r="2"/><circle cx="56.4" cy="255.6" r="2"/><circle cx="57.4" cy="267.3" r="2"/><circle cx="58.1" cy="258.2" r="2"/><circle cx="59.4" cy="262.7" r="2"/><circle cx="60.3" cy="260.8" r="2"/><circle cx="61.6" cy="258.2" r="2"/><circle cx="62.5" cy="300.3" r="2"/><circle cx="63.3" cy="272.5" r="2"/><circle cx="63.3" cy="295.4" r="2"/><circle cx="64.2" cy="253.0" r="2"/><circle cx="65.1" cy="300.8" r="2"/><circle cx="66.2" cy="256.2" r="2"/><circle cx="67.2" cy="277.0" r="2"/><circle cx="68.1" cy="275.7" r="2"/><circle cx="68.5" cy="253.0" r="2"/><circle cx="69.4" cy="256.9" r="2"/><circle cx="70.7" cy="269.9" r="2"/><circle cx="71.4" cy="293.8" r="2"/><circle cx="72.0" cy="258.2" r="2"/><circle cx="73.3" cy="261.4" r="2"/><circle cx="74.0" cy="260.1" r="2"/><circle cx="75.3" cy="270.5" r="2"/><circle cx="76.6" cy="309.7" r="2"/><circle cx="77.6" cy="308.8" r="2"/><circle cx="78.5" cy="256.2" r="2"/><circle cx="79.8" cy="259.5" r="2"/><circle cx="80.5" cy="269.9" r="2"/><circle cx="81.5" cy="263.1" r="2"/><circle cx="82.4" cy="258.2" r="2"/><circle cx="83.1" cy="267.3" r="2"/><circle cx="84.4" cy="269.9" r="2"/><circle cx="85.7" cy="253.0" r="2"/><circle cx="86.3" cy="289.1" r="2"/><circle cx="86.7" cy="262.7" r="2"/><circle cx="88.3" cy="254.3" r="2"/><circle cx="89.3" cy="282.2" r="2"/><circle cx="90.2" cy="255.3" r="2"/><circle cx="90.9" cy="260.1" r="2"/><circle cx="91.9" cy="301.9" r="2"/><circle cx="92.2" cy="264.0" r="2"/><circle cx="93.2" cy="262.7" r="2"/><circle cx="94.5" cy="277.0" r="2"/><circle cx="95.4" cy="253.0" r="2"/><circle cx="96.3" cy="258.2" r="2"/><circle cx="97.4" cy="265.3" r="2"/><circle cx="98.0" cy="269.9" r="2"/><circle cx="99.3" cy="255.6" r="2"/><circle cx="99.3" cy="273.1" r="2"/><circle cx="100.6" cy="260.1" r="2"/><circle cx="101.5" cy="266.6" r="2"/><circle cx="102.5" cy="279.0" r="2"/><circle cx="103.6" cy="293.8" r="2"/><circle cx="104.1" cy="267.3" r="2"/><circle cx="104.9" cy="312.5" r="2"/><circle cx="106.2" cy="295.6" r="2"/><circle cx="107.1" cy="252.3" r="2"/><circle cx="108.0" cy="263.4" r="2"/><circle cx="109.7" cy="258.8" r="2"/><circle cx="110.3" cy="264.0" r="2"/><circle cx="111.6" cy="257.5" r="2"/><circle cx="112.3" cy="266.6" r="2"/><circle cx="112.9" cy="256.2" r="2"/><circle cx="113.6" cy="269.9" r="2"/><circle cx="114.9" cy="267.3" r="2"/><circle cx="116.8" cy="260.8" r="2"/><circle cx="117.3" cy="268.8" r="2"/><circle cx="117.5" cy="269.9" r="2"/><circle cx="117.6" cy="259.5" r="2"/><circle cx="118.9" cy="264.0" r="2"/><circle cx="119.6" cy="257.5" r="2"/><circle cx="121.2" cy="258.2" r="2"/><circle cx="121.5" cy="263.5" r="2"/><circle cx="122.2" cy="270.5" r="2"/><circle cx="123.1" cy="265.3" r="2"/><circle cx="123.8" cy="257.5" r="2"/><circle cx="125.1" cy="266.6" r="2"/><circle cx="127.4" cy="260.5" r="2"/><circle cx="129.0" cy="284.8" r="2"/><circle cx="130.0" cy="260.5" r="2"/><circle cx="130.9" cy="310.7" r="2"/><circle cx="131.8" cy="269.2" r="2"/><circle cx="132.6" cy="257.5" r="2"/><circle cx="133.5" cy="301.9" r="2"/><circle cx="134.2" cy="276.1" r="2"/><circle cx="135.2" cy="253.6" r="2"/><circle cx="136.5" cy="253.0" r="2"/><circle cx="137.4" cy="267.9" r="2"/><circle cx="137.8" cy="260.1" r="2"/><circle cx="139.1" cy="252.3" r="2"/><circle cx="139.6" cy="282.2" r="2"/><circle cx="140.0" cy="253.6" r="2"/><circle cx="141.3" cy="267.9" r="2"/><circle cx="142.6" cy="271.2" r="2"/><circle cx="143.3" cy="267.3" r="2"/><circle cx="144.3" cy="279.6" r="2"/><circle cx="144.8" cy="252.3" r="2"/><circle cx="145.2" cy="261.4" r="2"/><circle cx="146.5" cy="263.4" r="2"/><circle cx="147.2" cy="266.0" r="2"/><circle cx="148.5" cy="262.7" r="2"/><circle cx="148.5" cy="321.4" r="2"/><circle cx="149.5" cy="274.4" r="2"/><circle cx="150.4" cy="267.9" r="2"/><circle cx="151.3" cy="260.8" r="2"/><circle cx="152.4" cy="277.7" r="2"/><circle cx="153.0" cy="316.2" r="2"/><circle cx="153.7" cy="271.8" r="2"/><circle cx="154.7" cy="252.3" r="2"/><circle cx="155.6" cy="276.4" r="2"/><circle cx="156.5" cy="265.3" r="2"/><circle cx="156.5" cy="296.7" r="2"/><circle cx="157.6" cy="256.9" r="2"/><circle cx="158.6" cy="254.5" r="2"/><circle cx="159.5" cy="268.6" r="2"/><circle cx="160.4" cy="258.2" r="2"/><circle cx="161.2" cy="265.3" r="2"/><circle cx="162.1" cy="271.8" r="2"/><circle cx="162.8" cy="284.8" r="2"/><circle cx="163.8" cy="253.6" r="2"/><circle cx="164.7" cy="262.7" r="2"/><circle cx="166.0" cy="264.7" r="2"/><circle cx="166.4" cy="263.4" r="2"/><circle cx="167.3" cy="267.9" r="2"/><circle cx="167.9" cy="266.0" r="2"/><circle cx="169.0" cy="262.7" r="2"/><circle cx="169.2" cy="268.0" r="2"/><circle cx="169.5" cy="271.8" r="2"/><circle cx="171.2" cy="270.9" r="2"/><circle cx="171.8" cy="256.2" r="2"/><circle cx="173.7" cy="259.0" r="2"/><circle cx="173.8" cy="260.1" r="2"/><circle cx="175.1" cy="264.7" r="2"/><circle cx="175.2" cy="262.0" r="2"/><circle cx="176.0" cy="272.5" r="2"/><circle cx="176.8" cy="263.4" r="2"/><circle cx="178.3" cy="256.2" r="2"/><circle cx="178.6" cy="255.0" r="2"/><circle cx="179.6" cy="254.5" r="2"/><circle cx="180.7" cy="274.4" r="2"/><circle cx="181.5" cy="256.0" r="2"/><circle cx="181.6" cy="259.5" r="2"/><circle cx="182.9" cy="265.3" r="2"/><circle cx="183.5" cy="274.4" r="2"/><circle cx="184.6" cy="254.9" r="2"/><circle cx="184.8" cy="258.2" r="2"/><circle cx="185.3" cy="273.1" r="2"/><circle cx="186.3" cy="258.8" r="2"/><circle cx="186.6" cy="273.5" r="2"/><circle cx="187.6" cy="284.8" r="2"/><circle cx="188.5" cy="258.2" r="2"/><circle cx="189.5" cy="265.3" r="2"/><circle cx="190.2" cy="292.0" r="2"/><circle cx="191.1" cy="253.6" r="2"/><circle cx="191.8" cy="259.5" r="2"/><circle cx="192.1" cy="279.0" r="2"/><circle cx="193.1" cy="261.4" r="2"/><circle cx="193.7" cy="319.6" r="2"/><circle cx="194.6" cy="266.6" r="2"/><circle cx="195.7" cy="251.9" r="2"/><circle cx="196.3" cy="301.9" r="2"/><circle cx="197.0" cy="263.4" r="2"/><circle cx="198.0" cy="260.1" r="2"/><circle cx="199.3" cy="275.1" r="2"/><circle cx="199.8" cy="256.6" r="2"/><circle cx="200.9" cy="251.9" r="2"/><circle cx="201.9" cy="264.7" r="2"/><circle cx="202.8" cy="266.0" r="2"/><circle cx="203.2" cy="284.2" r="2"/><circle cx="203.5" cy="274.4" r="2"/><circle cx="204.1" cy="269.2" r="2"/><circle cx="205.0" cy="259.5" r="2"/><circle cx="206.3" cy="270.5" r="2"/><circle cx="207.4" cy="262.7" r="2"/><circle cx="208.0" cy="266.6" r="2"/><circle cx="208.9" cy="315.3" r="2"/><circle cx="209.7" cy="260.8" r="2"/><circle cx="210.6" cy="251.9" r="2"/><circle cx="211.3" cy="271.2" r="2"/><circle cx="212.3" cy="276.4" r="2"/><circle cx="213.2" cy="256.9" r="2"/><circle cx="214.1" cy="267.9" r="2"/><circle cx="214.9" cy="251.9" r="2"/><circle cx="215.8" cy="271.2" r="2"/><circle cx="216.5" cy="254.0" r="2"/><circle cx="217.5" cy="258.2" r="2"/><circle cx="218.4" cy="261.4" r="2"/><circle cx="219.3" cy="263.1" r="2"/><circle cx="220.6" cy="271.4" r="2"/><circle cx="221.4" cy="253.0" r="2"/><circle cx="221.9" cy="303.6" r="2"/><circle cx="223.0" cy="295.5" r="2"/><circle cx="223.6" cy="270.5" r="2"/><circle cx="224.9" cy="287.4" r="2"/><circle cx="225.6" cy="263.1" r="2"/><circle cx="226.6" cy="331.8" r="2"/><circle cx="227.5" cy="277.7" r="2"/><circle cx="227.5" cy="334.8" r="2"/><circle cx="228.4" cy="253.6" r="2"/><circle cx="228.8" cy="266.6" r="2"/><circle cx="230.1" cy="264.4" r="2"/><circle cx="231.0" cy="273.1" r="2"/><circle cx="232.3" cy="275.1" r="2"/><circle cx="233.6" cy="253.6" r="2"/><circle cx="234.0" cy="259.5" r="2"/><circle cx="235.3" cy="275.1" r="2"/><circle cx="236.6" cy="277.7" r="2"/><circle cx="237.2" cy="267.3" r="2"/><circle cx="238.5" cy="259.5" r="2"/><circle cx="238.8" cy="295.5" r="2"/><circle cx="239.8" cy="271.2" r="2"/><circle cx="241.1" cy="256.2" r="2"/><circle cx="241.8" cy="251.9" r="2"/><circle cx="243.1" cy="258.2" r="2"/><circle cx="243.1" cy="260.8" r="2"/><circle cx="244.0" cy="279.6" r="2"/><circle cx="245.0" cy="255.6" r="2"/><circle cx="245.0" cy="261.4" r="2"/><circle cx="246.3" cy="265.3" r="2"/><circle cx="247.6" cy="271.2" r="2"/><circle cx="248.3" cy="260.8" r="2"/><circle cx="248.9" cy="251.9" r="2"/><circle cx="249.6" cy="267.9" r="2"/><circle cx="250.5" cy="253.6" r="2"/><circle cx="251.3" cy="261.4" r="2"/><circle cx="251.5" cy="251.9" r="2"/><circle cx="252.2" cy="262.7" r="2"/><circle cx="253.5" cy="253.0" r="2"/><circle cx="253.5" cy="317.0" r="2"/><circle cx="254.8" cy="316.8" r="2"/><circle cx="255.9" cy="277.9" r="2"/><circle cx="256.5" cy="267.9" r="2"/><circle cx="257.8" cy="253.0" r="2"/><circle cx="258.5" cy="271.2" r="2"/><circle cx="259.5" cy="254.0" r="2"/><circle cx="260.4" cy="275.1" r="2"/><circle cx="261.1" cy="264.7" r="2"/><circle cx="262.4" cy="269.2" r="2"/><circle cx="263.0" cy="298.2" r="2"/><circle cx="263.7" cy="260.8" r="2"/><circle cx="264.7" cy="266.6" r="2"/><circle cx="265.6" cy="319.8" r="2"/><circle cx="266.5" cy="253.0" r="2"/><circle cx="267.3" cy="256.9" r="2"/><circle cx="268.2" cy="262.1" r="2"/></g>
<polyline points="325.8,96.7 326.6,97.3 327.4,96.3 328.2,97.1 329.0,96.6 329.9,96.6 330.7,97.6 331.5,96.8 332.3,96.7 333.1,97.0 333.9,97.2 334.7,96.7 335.5,97.0 336.3,96.3 337.1,96.5 337.9,96.5 338.7,96.1 339.6,96.0 340.4,96.0 341.2,96.6 342.0,96.6 342.8,96.6 343.6,96.7 344.4,96.1 345.2,96.7 346.0,96.8 346.8,97.0 347.6,96.3 348.4,96.5 349.3,95.8 350.1,96.5 350.9,95.7 351.7,96.1 352.5,97.2 353.3,95.7 354.1,97.1 354.9,96.8 355.7,96.6 356.5,96.9 357.3,96.9 358.1,97.2 359.0,96.6 359.8,96.4 360.6,96.4 361.4,96.3 362.2,96.7 363.0,96.3 363.6,55.9 364.6,97.2 365.4,95.9 366.2,96.2 367.0,96.3 367.8,95.8 368.7,97.6 369.5,95.6 370.3,96.6 371.1,96.5 371.9,97.4 372.7,95.8 373.5,97.2 374.3,96.4 375.1,96.6 375.9,96.4 376.7,97.0 377.5,96.2 378.4,96.7 379.2,96.9 380.0,97.5 380.8,95.6 381.6,97.4 382.4,97.1 383.2,96.5 384.0,96.8 384.8,96.5 385.6,97.4 386.4,96.8 387.2,96.6 388.1,96.6 388.9,96.6 389.7,96.6 390.5,96.3 391.3,97.6 392.1,95.8 392.9,95.1 393.7,96.6 394.5,96.6 395.3,96.9 396.1,96.6 396.9,96.6 397.8,96.8 398.6,97.1 399.4,96.5 400.2,96.5 401.0,97.6 401.8,96.9 402.6,96.3 403.4,97.7 404.2,97.0 404.7,57.0 405.8,96.4 406.6,96.2 407.5,96.8 408.3,96.3 409.1,96.2 409.9,96.1 410.7,96.5 411.5,97.2 412.3,96.5 413.1,96.0 413.9,97.0 414.7,96.7 415.5,97.1 416.3,97.2 417.2,96.6 418.0,96.6 418.8,96.7 419.6,96.2 420.4,97.0 421.2,97.3 422.0,96.8 422.8,96.6 423.6,96.6 424.4,96.3 425.2,96.3 426.1,96.5 426.9,96.3 427.7,96.5 428.5,96.0 429.3,96.9 430.1,96.7 430.9,96.2 431.7,95.7 432.5,96.7 433.3,97.2 434.1,96.4 434.9,96.5 435.8,96.4 436.6,97.0 437.4,96.3 438.2,97.1 439.0,96.6 439.8,97.1 440.6,96.7 441.4,96.6 442.2,96.0 443.0,96.4 443.8,96.6 444.6,96.2 445.7,135.1 446.3,97.0 447.1,98.7 447.9,96.8 448.7,96.4 449.5,96.9 450.3,97.1 451.1,96.6 451.9,96.5 452.7,96.5 453.5,97.1 454.3,96.9 455.2,96.3 456.0,96.9 456.8,96.5 457.6,96.4 458.4,97.3 459.2,97.1 460.0,96.4 460.8,96.7 461.6,96.9 462.4,96.4 463.2,96.6 464.0,97.0 464.9,95.9 465.7,96.8 466.5,97.0 467.3,96.9 468.1,96.1 468.9,96.8 469.7,96.3 470.5,97.0 471.3,97.0 472.1,96.8 472.9,96.4 473.7,96.4 474.6,97.1 475.4,96.3 476.2,96.9 477.0,96.9 477.8,96.6 478.6,97.8 479.4,96.7 480.2,97.7 481.0,95.8 481.8,95.7 482.6,97.1 483.4,97.0 484.3,96.6 485.1,96.7 485.9,95.8 486.3,55.1 487.5,96.4 488.3,96.2 489.1,96.6 489.9,97.1 490.7,96.7 491.5,96.9 492.3,96.4 493.1,96.5 494.0,96.8 494.8,96.6 495.6,97.3 496.4,96.3 497.2,97.6 498.0,96.3 498.8,97.2 499.6,96.4 500.4,97.4 501.2,96.8 502.0,96.9 502.8,97.0 503.7,96.4 504.5,96.2 505.3,95.8 506.1,97.2 506.9,96.4 507.7,96.4 508.5,96.7 509.3,97.6 510.1,95.9 510.9,96.8 511.7,96.5 512.5,96.9 513.4,95.9 514.2,96.5 515.0,97.1 515.8,97.4 516.6,97.4 517.4,96.3 518.2,96.7 519.0,96.7 519.8,96.1 520.6,96.1 521.4,97.0 522.2,96.8 523.1,96.6 523.9,97.2 524.7,96.2 525.5,93.7 526.3,137.1 527.1,100.2 527.9,96.9 528.7,96.7 529.5,96.7 530.3,96.9 531.1,96.8 532.0,98.5 532.8,96.8 533.6,96.8 534.4,97.6 535.2,96.6 536.0,97.2 536.8,97.0 537.6,96.5 538.4,97.1 539.2,96.3" fill="none" stroke="#6ab86a" stroke-width="0.8" stroke-dasharray="4 1.2"/>
<g fill="#068606"><circle cx="325.8" cy="96.7" r="1.85"/><circle cx="326.6" cy="97.3" r="1.85"/><circle cx="327.4" cy="96.3" r="1.85"/><circle cx="328.2" cy="97.1" r="1.85"/><circle cx="329.0" cy="96.6" r="1.85"/><circle cx="329.9" cy="96.6" r="1.85"/><circle cx="330.7" cy="97.6" r="1.85"/><circle cx="331.5" cy="96.8" r="1.85"/><circle cx="332.3" cy="96.7" r="1.85"/><circle cx="333.1" cy="97.0" r="1.85"/><circle cx="333.9" cy="97.2" r="1.85"/><circle cx="334.7" cy="96.7" r="1.85"/><circle cx="335.5" cy="97.0" r="1.85"/><circle cx="336.3" cy="96.3" r="1.85"/><circle cx="337.1" cy="96.5" r="1.85"/><circle cx="337.9" cy="96.5" r="1.85"/><circle cx="338.7" cy="96.1" r="1.85"/><circle cx="339.6" cy="96.0" r="1.85"/><circle cx="340.4" cy="96.0" r="1.85"/><circle cx="341.2" cy="96.6" r="1.85"/><circle cx="342.0" cy="96.6" r="1.85"/><circle cx="342.8" cy="96.6" r="1.85"/><circle cx="343.6" cy="96.7" r="1.85"/><circle cx="344.4" cy="96.1" r="1.85"/><circle cx="345.2" cy="96.7" r="1.85"/><circle cx="346.0" cy="96.8" r="1.85"/><circle cx="346.8" cy="97.0" r="1.85"/><circle cx="347.6" cy="96.3" r="1.85"/><circle cx="348.4" cy="96.5" r="1.85"/><circle cx="349.3" cy="95.8" r="1.85"/><circle cx="350.1" cy="96.5" r="1.85"/><circle cx="350.9" cy="95.7" r="1.85"/><circle cx="351.7" cy="96.1" r="1.85"/><circle cx="352.5" cy="97.2" r="1.85"/><circle cx="353.3" cy="95.7" r="1.85"/><circle cx="354.1" cy="97.1" r="1.85"/><circle cx="354.9" cy="96.8" r="1.85"/><circle cx="355.7" cy="96.6" r="1.85"/><circle cx="356.5" cy="96.9" r="1.85"/><circle cx="357.3" cy="96.9" r="1.85"/><circle cx="358.1" cy="97.2" r="1.85"/><circle cx="359.0" cy="96.6" r="1.85"/><circle cx="359.8" cy="96.4" r="1.85"/><circle cx="360.6" cy="96.4" r="1.85"/><circle cx="361.4" cy="96.3" r="1.85"/><circle cx="362.2" cy="96.7" r="1.85"/><circle cx="363.0" cy="96.3" r="1.85"/><circle cx="363.6" cy="55.9" r="1.85"/><circle cx="364.6" cy="97.2" r="1.85"/><circle cx="365.4" cy="95.9" r="1.85"/><circle cx="366.2" cy="96.2" r="1.85"/><circle cx="367.0" cy="96.3" r="1.85"/><circle cx="367.8" cy="95.8" r="1.85"/><circle cx="368.7" cy="97.6" r="1.85"/><circle cx="369.5" cy="95.6" r="1.85"/><circle cx="370.3" cy="96.6" r="1.85"/><circle cx="371.1" cy="96.5" r="1.85"/><circle cx="371.9" cy="97.4" r="1.85"/><circle cx="372.7" cy="95.8" r="1.85"/><circle cx="373.5" cy="97.2" r="1.85"/><circle cx="374.3" cy="96.4" r="1.85"/><circle cx="375.1" cy="96.6" r="1.85"/><circle cx="375.9" cy="96.4" r="1.85"/><circle cx="376.7" cy="97.0" r="1.85"/><circle cx="377.5" cy="96.2" r="1.85"/><circle cx="378.4" cy="96.7" r="1.85"/><circle cx="379.2" cy="96.9" r="1.85"/><circle cx="380.0" cy="97.5" r="1.85"/><circle cx="380.8" cy="95.6" r="1.85"/><circle cx="381.6" cy="97.4" r="1.85"/><circle cx="382.4" cy="97.1" r="1.85"/><circle cx="383.2" cy="96.5" r="1.85"/><circle cx="384.0" cy="96.8" r="1.85"/><circle cx="384.8" cy="96.5" r="1.85"/><circle cx="385.6" cy="97.4" r="1.85"/><circle cx="386.4" cy="96.8" r="1.85"/><circle cx="387.2" cy="96.6" r="1.85"/><circle cx="388.1" cy="96.6" r="1.85"/><circle cx="388.9" cy="96.6" r="1.85"/><circle cx="389.7" cy="96.6" r="1.85"/><circle cx="390.5" cy="96.3" r="1.85"/><circle cx="391.3" cy="97.6" r="1.85"/><circle cx="392.1" cy="95.8" r="1.85"/><circle cx="392.9" cy="95.1" r="1.85"/><circle cx="393.7" cy="96.6" r="1.85"/><circle cx="394.5" cy="96.6" r="1.85"/><circle cx="395.3" cy="96.9" r="1.85"/><circle cx="396.1" cy="96.6" r="1.85"/><circle cx="396.9" cy="96.6" r="1.85"/><circle cx="397.8" cy="96.8" r="1.85"/><circle cx="398.6" cy="97.1" r="1.85"/><circle cx="399.4" cy="96.5" r="1.85"/><circle cx="400.2" cy="96.5" r="1.85"/><circle cx="401.0" cy="97.6" r="1.85"/><circle cx="401.8" cy="96.9" r="1.85"/><circle cx="402.6" cy="96.3" r="1.85"/><circle cx="403.4" cy="97.7" r="1.85"/><circle cx="404.2" cy="97.0" r="1.85"/><circle cx="404.7" cy="57.0" r="1.85"/><circle cx="405.8" cy="96.4" r="1.85"/><circle cx="406.6" cy="96.2" r="1.85"/><circle cx="407.5" cy="96.8" r="1.85"/><circle cx="408.3" cy="96.3" r="1.85"/><circle cx="409.1" cy="96.2" r="1.85"/><circle cx="409.9" cy="96.1" r="1.85"/><circle cx="410.7" cy="96.5" r="1.85"/><circle cx="411.5" cy="97.2" r="1.85"/><circle cx="412.3" cy="96.5" r="1.85"/><circle cx="413.1" cy="96.0" r="1.85"/><circle cx="413.9" cy="97.0" r="1.85"/><circle cx="414.7" cy="96.7" r="1.85"/><circle cx="415.5" cy="97.1" r="1.85"/><circle cx="416.3" cy="97.2" r="1.85"/><circle cx="417.2" cy="96.6" r="1.85"/><circle cx="418.0" cy="96.6" r="1.85"/><circle cx="418.8" cy="96.7" r="1.85"/><circle cx="419.6" cy="96.2" r="1.85"/><circle cx="420.4" cy="97.0" r="1.85"/><circle cx="421.2" cy="97.3" r="1.85"/><circle cx="422.0" cy="96.8" r="1.85"/><circle cx="422.8" cy="96.6" r="1.85"/><circle cx="423.6" cy="96.6" r="1.85"/><circle cx="424.4" cy="96.3" r="1.85"/><circle cx="425.2" cy="96.3" r="1.85"/><circle cx="426.1" cy="96.5" r="1.85"/><circle cx="426.9" cy="96.3" r="1.85"/><circle cx="427.7" cy="96.5" r="1.85"/><circle cx="428.5" cy="96.0" r="1.85"/><circle cx="429.3" cy="96.9" r="1.85"/><circle cx="430.1" cy="96.7" r="1.85"/><circle cx="430.9" cy="96.2" r="1.85"/><circle cx="431.7" cy="95.7" r="1.85"/><circle cx="432.5" cy="96.7" r="1.85"/><circle cx="433.3" cy="97.2" r="1.85"/><circle cx="434.1" cy="96.4" r="1.85"/><circle cx="434.9" cy="96.5" r="1.85"/><circle cx="435.8" cy="96.4" r="1.85"/><circle cx="436.6" cy="97.0" r="1.85"/><circle cx="437.4" cy="96.3" r="1.85"/><circle cx="438.2" cy="97.1" r="1.85"/><circle cx="439.0" cy="96.6" r="1.85"/><circle cx="439.8" cy="97.1" r="1.85"/><circle cx="440.6" cy="96.7" r="1.85"/><circle cx="441.4" cy="96.6" r="1.85"/><circle cx="442.2" cy="96.0" r="1.85"/><circle cx="443.0" cy="96.4" r="1.85"/><circle cx="443.8" cy="96.6" r="1.85"/><circle cx="444.6" cy="96.2" r="1.85"/><circle cx="445.7" cy="135.1" r="1.85"/><circle cx="446.3" cy="97.0" r="1.85"/><circle cx="447.1" cy="98.7" r="1.85"/><circle cx="447.9" cy="96.8" r="1.85"/><circle cx="448.7" cy="96.4" r="1.85"/><circle cx="449.5" cy="96.9" r="1.85"/><circle cx="450.3" cy="97.1" r="1.85"/><circle cx="451.1" cy="96.6" r="1.85"/><circle cx="451.9" cy="96.5" r="1.85"/><circle cx="452.7" cy="96.5" r="1.85"/><circle cx="453.5" cy="97.1" r="1.85"/><circle cx="454.3" cy="96.9" r="1.85"/><circle cx="455.2" cy="96.3" r="1.85"/><circle cx="456.0" cy="96.9" r="1.85"/><circle cx="456.8" cy="96.5" r="1.85"/><circle cx="457.6" cy="96.4" r="1.85"/><circle cx="458.4" cy="97.3" r="1.85"/><circle cx="459.2" cy="97.1" r="1.85"/><circle cx="460.0" cy="96.4" r="1.85"/><circle cx="460.8" cy="96.7" r="1.85"/><circle cx="461.6" cy="96.9" r="1.85"/><circle cx="462.4" cy="96.4" r="1.85"/><circle cx="463.2" cy="96.6" r="1.85"/><circle cx="464.0" cy="97.0" r="1.85"/><circle cx="464.9" cy="95.9" r="1.85"/><circle cx="465.7" cy="96.8" r="1.85"/><circle cx="466.5" cy="97.0" r="1.85"/><circle cx="467.3" cy="96.9" r="1.85"/><circle cx="468.1" cy="96.1" r="1.85"/><circle cx="468.9" cy="96.8" r="1.85"/><circle cx="469.7" cy="96.3" r="1.85"/><circle cx="470.5" cy="97.0" r="1.85"/><circle cx="471.3" cy="97.0" r="1.85"/><circle cx="472.1" cy="96.8" r="1.85"/><circle cx="472.9" cy="96.4" r="1.85"/><circle cx="473.7" cy="96.4" r="1.85"/><circle cx="474.6" cy="97.1" r="1.85"/><circle cx="475.4" cy="96.3" r="1.85"/><circle cx="476.2" cy="96.9" r="1.85"/><circle cx="477.0" cy="96.9" r="1.85"/><circle cx="477.8" cy="96.6" r="1.85"/><circle cx="478.6" cy="97.8" r="1.85"/><circle cx="479.4" cy="96.7" r="1.85"/><circle cx="480.2" cy="97.7" r="1.85"/><circle cx="481.0" cy="95.8" r="1.85"/><circle cx="481.8" cy="95.7" r="1.85"/><circle cx="482.6" cy="97.1" r="1.85"/><circle cx="483.4" cy="97.0" r="1.85"/><circle cx="484.3" cy="96.6" r="1.85"/><circle cx="485.1" cy="96.7" r="1.85"/><circle cx="485.9" cy="95.8" r="1.85"/><circle cx="486.3" cy="55.1" r="1.85"/><circle cx="487.5" cy="96.4" r="1.85"/><circle cx="488.3" cy="96.2" r="1.85"/><circle cx="489.1" cy="96.6" r="1.85"/><circle cx="489.9" cy="97.1" r="1.85"/><circle cx="490.7" cy="96.7" r="1.85"/><circle cx="491.5" cy="96.9" r="1.85"/><circle cx="492.3" cy="96.4" r="1.85"/><circle cx="493.1" cy="96.5" r="1.85"/><circle cx="494.0" cy="96.8" r="1.85"/><circle cx="494.8" cy="96.6" r="1.85"/><circle cx="495.6" cy="97.3" r="1.85"/><circle cx="496.4" cy="96.3" r="1.85"/><circle cx="497.2" cy="97.6" r="1.85"/><circle cx="498.0" cy="96.3" r="1.85"/><circle cx="498.8" cy="97.2" r="1.85"/><circle cx="499.6" cy="96.4" r="1.85"/><circle cx="500.4" cy="97.4" r="1.85"/><circle cx="501.2" cy="96.8" r="1.85"/><circle cx="502.0" cy="96.9" r="1.85"/><circle cx="502.8" cy="97.0" r="1.85"/><circle cx="503.7" cy="96.4" r="1.85"/><circle cx="504.5" cy="96.2" r="1.85"/><circle cx="505.3" cy="95.8" r="1.85"/><circle cx="506.1" cy="97.2" r="1.85"/><circle cx="506.9" cy="96.4" r="1.85"/><circle cx="507.7" cy="96.4" r="1.85"/><circle cx="508.5" cy="96.7" r="1.85"/><circle cx="509.3" cy="97.6" r="1.85"/><circle cx="510.1" cy="95.9" r="1.85"/><circle cx="510.9" cy="96.8" r="1.85"/><circle cx="511.7" cy="96.5" r="1.85"/><circle cx="512.5" cy="96.9" r="1.85"/><circle cx="513.4" cy="95.9" r="1.85"/><circle cx="514.2" cy="96.5" r="1.85"/><circle cx="515.0" cy="97.1" r="1.85"/><circle cx="515.8" cy="97.4" r="1.85"/><circle cx="516.6" cy="97.4" r="1.85"/><circle cx="517.4" cy="96.3" r="1.85"/><circle cx="518.2" cy="96.7" r="1.85"/><circle cx="519.0" cy="96.7" r="1.85"/><circle cx="519.8" cy="96.1" r="1.85"/><circle cx="520.6" cy="96.1" r="1.85"/><circle cx="521.4" cy="97.0" r="1.85"/><circle cx="522.2" cy="96.8" r="1.85"/><circle cx="523.1" cy="96.6" r="1.85"/><circle cx="523.9" cy="97.2" r="1.85"/><circle cx="524.7" cy="96.2" r="1.85"/><circle cx="525.5" cy="93.7" r="1.85"/><circle cx="526.3" cy="137.1" r="1.85"/><circle cx="527.1" cy="100.2" r="1.85"/><circle cx="527.9" cy="96.9" r="1.85"/><circle cx="528.7" cy="96.7" r="1.85"/><circle cx="529.5" cy="96.7" r="1.85"/><circle cx="530.3" cy="96.9" r="1.85"/><circle cx="531.1" cy="96.8" r="1.85"/><circle cx="532.0" cy="98.5" r="1.85"/><circle cx="532.8" cy="96.8" r="1.85"/><circle cx="533.6" cy="96.8" r="1.85"/><circle cx="534.4" cy="97.6" r="1.85"/><circle cx="535.2" cy="96.6" r="1.85"/><circle cx="536.0" cy="97.2" r="1.85"/><circle cx="536.8" cy="97.0" r="1.85"/><circle cx="537.6" cy="96.5" r="1.85"/><circle cx="538.4" cy="97.1" r="1.85"/><circle cx="539.2" cy="96.3" r="1.85"/></g>
<polyline points="325.8,271.1 326.6,270.8 327.4,270.8 328.2,270.9 329.0,271.0 329.9,271.0 330.7,272.0 331.5,271.0 332.3,270.9 333.1,270.8 333.9,271.0 334.7,272.0 335.5,270.9 336.3,270.8 337.1,271.0 337.9,270.9 338.7,270.8 339.6,272.0 340.4,271.0 341.2,270.7 342.0,270.8 342.8,271.0 343.6,270.7 344.4,270.9 345.2,270.7 346.0,271.0 346.8,270.8 347.6,270.9 348.4,270.7 349.3,270.8 350.1,271.0 350.9,271.0 351.7,272.0 352.5,270.6 353.3,271.0 354.1,271.0 354.9,270.8 355.7,271.1 356.5,270.7 357.3,270.9 358.1,271.1 359.0,271.1 359.8,271.1 360.6,270.7 361.4,270.6 362.2,271.0 363.0,270.7 363.8,270.9 364.8,248.6 365.4,270.7 366.2,271.1 367.0,272.0 367.8,271.0 368.7,271.0 369.5,270.9 370.3,270.9 371.1,270.9 371.9,271.0 372.7,270.9 373.5,271.0 374.3,270.8 375.1,271.2 375.9,270.9 376.7,271.1 377.5,271.1 378.4,270.8 379.2,270.6 380.0,272.0 380.8,271.1 381.6,270.8 382.4,270.9 383.2,270.9 384.0,270.9 384.8,270.7 385.6,270.9 386.4,270.8 387.2,270.9 388.1,270.5 388.9,271.0 389.7,270.9 390.5,270.6 391.3,270.8 392.1,270.9 392.9,271.0 393.7,270.9 394.5,271.1 395.3,270.9 396.1,270.7 396.9,270.8 397.8,271.0 398.6,270.8 399.4,271.0 400.2,271.1 401.0,271.0 401.8,271.1 402.6,270.9 403.4,270.9 404.2,270.8 405.0,270.8 405.6,207.8 406.6,270.7 407.5,270.8 408.3,270.7 409.1,270.7 409.9,270.9 410.7,271.0 411.5,270.8 412.3,271.1 413.1,271.0 413.9,272.0 414.7,271.1 415.5,270.8 416.3,270.7 417.2,271.0 418.0,270.9 418.8,271.0 419.6,271.0 420.4,271.1 421.2,270.9 422.0,271.0 422.8,270.8 423.6,270.6 424.4,270.8 425.2,271.1 426.1,272.0 426.9,270.6 427.7,271.1 428.5,272.0 429.3,270.8 430.1,270.8 430.9,270.9 431.7,270.9 432.5,270.8 433.3,270.9 434.1,271.0 434.9,271.0 435.8,270.8 436.6,271.1 437.4,271.2 438.2,271.3 439.0,270.7 439.8,270.9 440.6,270.6 441.4,271.0 442.2,271.0 443.0,270.7 443.8,270.7 444.6,270.9 445.5,282.5 446.3,271.0 447.1,270.8 447.9,272.0 448.7,270.9 449.5,270.5 450.3,270.8 451.1,270.9 451.9,270.9 452.7,271.1 453.5,270.7 454.3,270.6 455.2,271.0 456.0,270.8 456.8,270.9 457.6,271.0 458.4,271.0 459.2,271.1 460.0,271.1 460.8,270.7 461.6,270.9 462.4,271.2 463.2,270.8 464.0,271.0 464.9,270.9 465.7,270.8 466.5,272.0 467.3,271.1 468.1,271.1 468.9,272.0 469.7,270.9 470.5,271.0 471.3,270.7 472.1,270.8 472.9,271.0 473.7,270.9 474.6,270.7 475.4,271.0 476.2,272.0 477.0,270.9 477.8,271.1 478.6,271.0 479.4,270.9 480.2,270.8 481.0,270.9 481.8,270.9 482.6,271.1 483.4,271.1 484.3,271.1 485.1,271.0 486.1,256.9 486.7,270.9 487.5,271.0 488.3,270.8 489.1,272.0 489.9,270.9 490.7,270.7 491.5,270.8 492.3,272.0 493.1,271.1 494.0,270.7 494.8,270.7 495.6,270.9 496.4,272.0 497.2,271.2 498.0,271.1 498.8,270.8 499.6,270.8 500.4,270.9 501.2,270.8 502.0,270.9 502.8,270.9 503.7,270.7 504.5,270.8 505.3,270.9 506.1,270.8 506.9,270.7 507.7,271.0 508.5,271.2 509.3,272.0 510.1,270.9 510.9,270.8 511.7,271.0 512.5,270.9 513.4,270.8 514.2,271.1 515.0,270.7 515.8,270.8 516.6,270.8 517.4,270.8 518.2,270.9 519.0,271.0 519.8,271.1 520.6,271.0 521.4,270.9 522.2,270.7 523.1,270.9 523.9,270.8 524.7,270.9 525.5,271.0 526.3,270.9 527.0,322.5 527.9,272.0 528.7,270.9 529.5,272.0 530.3,270.8 531.1,270.9 532.0,270.9 532.8,270.8 533.6,272.0 534.4,270.8 535.2,271.0 536.0,270.7 536.8,270.8 537.6,270.7 538.4,271.1 539.2,271.0" fill="none" stroke="#6ab86a" stroke-width="0.8" stroke-dasharray="4 1.2"/>
<g fill="#068606"><circle cx="325.8" cy="271.1" r="1.95"/><circle cx="326.6" cy="270.8" r="1.95"/><circle cx="327.4" cy="270.8" r="1.95"/><circle cx="328.2" cy="270.9" r="1.95"/><circle cx="329.0" cy="271.0" r="1.95"/><circle cx="329.9" cy="271.0" r="1.95"/><circle cx="330.7" cy="272.0" r="1.95"/><circle cx="331.5" cy="271.0" r="1.95"/><circle cx="332.3" cy="270.9" r="1.95"/><circle cx="333.1" cy="270.8" r="1.95"/><circle cx="333.9" cy="271.0" r="1.95"/><circle cx="334.7" cy="272.0" r="1.95"/><circle cx="335.5" cy="270.9" r="1.95"/><circle cx="336.3" cy="270.8" r="1.95"/><circle cx="337.1" cy="271.0" r="1.95"/><circle cx="337.9" cy="270.9" r="1.95"/><circle cx="338.7" cy="270.8" r="1.95"/><circle cx="339.6" cy="272.0" r="1.95"/><circle cx="340.4" cy="271.0" r="1.95"/><circle cx="341.2" cy="270.7" r="1.95"/><circle cx="342.0" cy="270.8" r="1.95"/><circle cx="342.8" cy="271.0" r="1.95"/><circle cx="343.6" cy="270.7" r="1.95"/><circle cx="344.4" cy="270.9" r="1.95"/><circle cx="345.2" cy="270.7" r="1.95"/><circle cx="346.0" cy="271.0" r="1.95"/><circle cx="346.8" cy="270.8" r="1.95"/><circle cx="347.6" cy="270.9" r="1.95"/><circle cx="348.4" cy="270.7" r="1.95"/><circle cx="349.3" cy="270.8" r="1.95"/><circle cx="350.1" cy="271.0" r="1.95"/><circle cx="350.9" cy="271.0" r="1.95"/><circle cx="351.7" cy="272.0" r="1.95"/><circle cx="352.5" cy="270.6" r="1.95"/><circle cx="353.3" cy="271.0" r="1.95"/><circle cx="354.1" cy="271.0" r="1.95"/><circle cx="354.9" cy="270.8" r="1.95"/><circle cx="355.7" cy="271.1" r="1.95"/><circle cx="356.5" cy="270.7" r="1.95"/><circle cx="357.3" cy="270.9" r="1.95"/><circle cx="358.1" cy="271.1" r="1.95"/><circle cx="359.0" cy="271.1" r="1.95"/><circle cx="359.8" cy="271.1" r="1.95"/><circle cx="360.6" cy="270.7" r="1.95"/><circle cx="361.4" cy="270.6" r="1.95"/><circle cx="362.2" cy="271.0" r="1.95"/><circle cx="363.0" cy="270.7" r="1.95"/><circle cx="363.8" cy="270.9" r="1.95"/><circle cx="364.8" cy="248.6" r="1.95"/><circle cx="365.4" cy="270.7" r="1.95"/><circle cx="366.2" cy="271.1" r="1.95"/><circle cx="367.0" cy="272.0" r="1.95"/><circle cx="367.8" cy="271.0" r="1.95"/><circle cx="368.7" cy="271.0" r="1.95"/><circle cx="369.5" cy="270.9" r="1.95"/><circle cx="370.3" cy="270.9" r="1.95"/><circle cx="371.1" cy="270.9" r="1.95"/><circle cx="371.9" cy="271.0" r="1.95"/><circle cx="372.7" cy="270.9" r="1.95"/><circle cx="373.5" cy="271.0" r="1.95"/><circle cx="374.3" cy="270.8" r="1.95"/><circle cx="375.1" cy="271.2" r="1.95"/><circle cx="375.9" cy="270.9" r="1.95"/><circle cx="376.7" cy="271.1" r="1.95"/><circle cx="377.5" cy="271.1" r="1.95"/><circle cx="378.4" cy="270.8" r="1.95"/><circle cx="379.2" cy="270.6" r="1.95"/><circle cx="380.0" cy="272.0" r="1.95"/><circle cx="380.8" cy="271.1" r="1.95"/><circle cx="381.6" cy="270.8" r="1.95"/><circle cx="382.4" cy="270.9" r="1.95"/><circle cx="383.2" cy="270.9" r="1.95"/><circle cx="384.0" cy="270.9" r="1.95"/><circle cx="384.8" cy="270.7" r="1.95"/><circle cx="385.6" cy="270.9" r="1.95"/><circle cx="386.4" cy="270.8" r="1.95"/><circle cx="387.2" cy="270.9" r="1.95"/><circle cx="388.1" cy="270.5" r="1.95"/><circle cx="388.9" cy="271.0" r="1.95"/><circle cx="389.7" cy="270.9" r="1.95"/><circle cx="390.5" cy="270.6" r="1.95"/><circle cx="391.3" cy="270.8" r="1.95"/><circle cx="392.1" cy="270.9" r="1.95"/><circle cx="392.9" cy="271.0" r="1.95"/><circle cx="393.7" cy="270.9" r="1.95"/><circle cx="394.5" cy="271.1" r="1.95"/><circle cx="395.3" cy="270.9" r="1.95"/><circle cx="396.1" cy="270.7" r="1.95"/><circle cx="396.9" cy="270.8" r="1.95"/><circle cx="397.8" cy="271.0" r="1.95"/><circle cx="398.6" cy="270.8" r="1.95"/><circle cx="399.4" cy="271.0" r="1.95"/><circle cx="400.2" cy="271.1" r="1.95"/><circle cx="401.0" cy="271.0" r="1.95"/><circle cx="401.8" cy="271.1" r="1.95"/><circle cx="402.6" cy="270.9" r="1.95"/><circle cx="403.4" cy="270.9" r="1.95"/><circle cx="404.2" cy="270.8" r="1.95"/><circle cx="405.0" cy="270.8" r="1.95"/><circle cx="405.6" cy="207.8" r="1.95"/><circle cx="406.6" cy="270.7" r="1.95"/><circle cx="407.5" cy="270.8" r="1.95"/><circle cx="408.3" cy="270.7" r="1.95"/><circle cx="409.1" cy="270.7" r="1.95"/><circle cx="409.9" cy="270.9" r="1.95"/><circle cx="410.7" cy="271.0" r="1.95"/><circle cx="411.5" cy="270.8" r="1.95"/><circle cx="412.3" cy="271.1" r="1.95"/><circle cx="413.1" cy="271.0" r="1.95"/><circle cx="413.9" cy="272.0" r="1.95"/><circle cx="414.7" cy="271.1" r="1.95"/><circle cx="415.5" cy="270.8" r="1.95"/><circle cx="416.3" cy="270.7" r="1.95"/><circle cx="417.2" cy="271.0" r="1.95"/><circle cx="418.0" cy="270.9" r="1.95"/><circle cx="418.8" cy="271.0" r="1.95"/><circle cx="419.6" cy="271.0" r="1.95"/><circle cx="420.4" cy="271.1" r="1.95"/><circle cx="421.2" cy="270.9" r="1.95"/><circle cx="422.0" cy="271.0" r="1.95"/><circle cx="422.8" cy="270.8" r="1.95"/><circle cx="423.6" cy="270.6" r="1.95"/><circle cx="424.4" cy="270.8" r="1.95"/><circle cx="425.2" cy="271.1" r="1.95"/><circle cx="426.1" cy="272.0" r="1.95"/><circle cx="426.9" cy="270.6" r="1.95"/><circle cx="427.7" cy="271.1" r="1.95"/><circle cx="428.5" cy="272.0" r="1.95"/><circle cx="429.3" cy="270.8" r="1.95"/><circle cx="430.1" cy="270.8" r="1.95"/><circle cx="430.9" cy="270.9" r="1.95"/><circle cx="431.7" cy="270.9" r="1.95"/><circle cx="432.5" cy="270.8" r="1.95"/><circle cx="433.3" cy="270.9" r="1.95"/><circle cx="434.1" cy="271.0" r="1.95"/><circle cx="434.9" cy="271.0" r="1.95"/><circle cx="435.8" cy="270.8" r="1.95"/><circle cx="436.6" cy="271.1" r="1.95"/><circle cx="437.4" cy="271.2" r="1.95"/><circle cx="438.2" cy="271.3" r="1.95"/><circle cx="439.0" cy="270.7" r="1.95"/><circle cx="439.8" cy="270.9" r="1.95"/><circle cx="440.6" cy="270.6" r="1.95"/><circle cx="441.4" cy="271.0" r="1.95"/><circle cx="442.2" cy="271.0" r="1.95"/><circle cx="443.0" cy="270.7" r="1.95"/><circle cx="443.8" cy="270.7" r="1.95"/><circle cx="444.6" cy="270.9" r="1.95"/><circle cx="445.5" cy="282.5" r="1.95"/><circle cx="446.3" cy="271.0" r="1.95"/><circle cx="447.1" cy="270.8" r="1.95"/><circle cx="447.9" cy="272.0" r="1.95"/><circle cx="448.7" cy="270.9" r="1.95"/><circle cx="449.5" cy="270.5" r="1.95"/><circle cx="450.3" cy="270.8" r="1.95"/><circle cx="451.1" cy="270.9" r="1.95"/><circle cx="451.9" cy="270.9" r="1.95"/><circle cx="452.7" cy="271.1" r="1.95"/><circle cx="453.5" cy="270.7" r="1.95"/><circle cx="454.3" cy="270.6" r="1.95"/><circle cx="455.2" cy="271.0" r="1.95"/><circle cx="456.0" cy="270.8" r="1.95"/><circle cx="456.8" cy="270.9" r="1.95"/><circle cx="457.6" cy="271.0" r="1.95"/><circle cx="458.4" cy="271.0" r="1.95"/><circle cx="459.2" cy="271.1" r="1.95"/><circle cx="460.0" cy="271.1" r="1.95"/><circle cx="460.8" cy="270.7" r="1.95"/><circle cx="461.6" cy="270.9" r="1.95"/><circle cx="462.4" cy="271.2" r="1.95"/><circle cx="463.2" cy="270.8" r="1.95"/><circle cx="464.0" cy="271.0" r="1.95"/><circle cx="464.9" cy="270.9" r="1.95"/><circle cx="465.7" cy="270.8" r="1.95"/><circle cx="466.5" cy="272.0" r="1.95"/><circle cx="467.3" cy="271.1" r="1.95"/><circle cx="468.1" cy="271.1" r="1.95"/><circle cx="468.9" cy="272.0" r="1.95"/><circle cx="469.7" cy="270.9" r="1.95"/><circle cx="470.5" cy="271.0" r="1.95"/><circle cx="471.3" cy="270.7" r="1.95"/><circle cx="472.1" cy="270.8" r="1.95"/><circle cx="472.9" cy="271.0" r="1.95"/><circle cx="473.7" cy="270.9" r="1.95"/><circle cx="474.6" cy="270.7" r="1.95"/><circle cx="475.4" cy="271.0" r="1.95"/><circle cx="476.2" cy="272.0" r="1.95"/><circle cx="477.0" cy="270.9" r="1.95"/><circle cx="477.8" cy="271.1" r="1.95"/><circle cx="478.6" cy="271.0" r="1.95"/><circle cx="479.4" cy="270.9" r="1.95"/><circle cx="480.2" cy="270.8" r="1.95"/><circle cx="481.0" cy="270.9" r="1.95"/><circle cx="481.8" cy="270.9" r="1.95"/><circle cx="482.6" cy="271.1" r="1.95"/><circle cx="483.4" cy="271.1" r="1.95"/><circle cx="484.3" cy="271.1" r="1.95"/><circle cx="485.1" cy="271.0" r="1.95"/><circle cx="486.1" cy="256.9" r="1.95"/><circle cx="486.7" cy="270.9" r="1.95"/><circle cx="487.5" cy="271.0" r="1.95"/><circle cx="488.3" cy="270.8" r="1.95"/><circle cx="489.1" cy="272.0" r="1.95"/><circle cx="489.9" cy="270.9" r="1.95"/><circle cx="490.7" cy="270.7" r="1.95"/><circle cx="491.5" cy="270.8" r="1.95"/><circle cx="492.3" cy="272.0" r="1.95"/><circle cx="493.1" cy="271.1" r="1.95"/><circle cx="494.0" cy="270.7" r="1.95"/><circle cx="494.8" cy="270.7" r="1.95"/><circle cx="495.6" cy="270.9" r="1.95"/><circle cx="496.4" cy="272.0" r="1.95"/><circle cx="497.2" cy="271.2" r="1.95"/><circle cx="498.0" cy="271.1" r="1.95"/><circle cx="498.8" cy="270.8" r="1.95"/><circle cx="499.6" cy="270.8" r="1.95"/><circle cx="500.4" cy="270.9" r="1.95"/><circle cx="501.2" cy="270.8" r="1.95"/><circle cx="502.0" cy="270.9" r="1.95"/><circle cx="502.8" cy="270.9" r="1.95"/><circle cx="503.7" cy="270.7" r="1.95"/><circle cx="504.5" cy="270.8" r="1.95"/><circle cx="505.3" cy="270.9" r="1.95"/><circle cx="506.1" cy="270.8" r="1.95"/><circle cx="506.9" cy="270.7" r="1.95"/><circle cx="507.7" cy="271.0" r="1.95"/><circle cx="508.5" cy="271.2" r="1.95"/><circle cx="509.3" cy="272.0" r="1.95"/><circle cx="510.1" cy="270.9" r="1.95"/><circle cx="510.9" cy="270.8" r="1.95"/><circle cx="511.7" cy="271.0" r="1.95"/><circle cx="512.5" cy="270.9" r="1.95"/><circle cx="513.4" cy="270.8" r="1.95"/><circle cx="514.2" cy="271.1" r="1.95"/><circle cx="515.0" cy="270.7" r="1.95"/><circle cx="515.8" cy="270.8" r="1.95"/><circle cx="516.6" cy="270.8" r="1.95"/><circle cx="517.4" cy="270.8" r="1.95"/><circle cx="518.2" cy="270.9" r="1.95"/><circle cx="519.0" cy="271.0" r="1.95"/><circle cx="519.8" cy="271.1" r="1.95"/><circle cx="520.6" cy="271.0" r="1.95"/><circle cx="521.4" cy="270.9" r="1.95"/><circle cx="522.2" cy="270.7" r="1.95"/><circle cx="523.1" cy="270.9" r="1.95"/><circle cx="523.9" cy="270.8" r="1.95"/><circle cx="524.7" cy="270.9" r="1.95"/><circle cx="525.5" cy="271.0" r="1.95"/><circle cx="526.3" cy="270.9" r="1.95"/><circle cx="527.0" cy="322.5" r="1.95"/><circle cx="527.9" cy="272.0" r="1.95"/><circle cx="528.7" cy="270.9" r="1.95"/><circle cx="529.5" cy="272.0" r="1.95"/><circle cx="530.3" cy="270.8" r="1.95"/><circle cx="531.1" cy="270.9" r="1.95"/><circle cx="532.0" cy="270.9" r="1.95"/><circle cx="532.8" cy="270.8" r="1.95"/><circle cx="533.6" cy="272.0" r="1.95"/><circle cx="534.4" cy="270.8" r="1.95"/><circle cx="535.2" cy="271.0" r="1.95"/><circle cx="536.0" cy="270.7" r="1.95"/><circle cx="536.8" cy="270.8" r="1.95"/><circle cx="537.6" cy="270.7" r="1.95"/><circle cx="538.4" cy="271.1" r="1.95"/><circle cx="539.2" cy="271.0" r="1.95"/></g>
<text transform="translate(160.3,14.0) scale(1,1.05)" text-anchor="middle" font-size="13" fill="#14247a" stroke="#14247a" stroke-width="0.18">Without adding errors</text>
<text transform="translate(434.4,12.8) scale(1,1.05)" text-anchor="middle" font-size="13" fill="#0a840a" stroke="#0a840a" stroke-width="0.18">Adding errors for&#160; DD observations</text>
<text transform="translate(12,99.9) rotate(-90)" text-anchor="middle" font-size="13.3" stroke="#000" stroke-width="0.18">Residuals (m)</text>
<text transform="translate(291.7,100) rotate(-90)" text-anchor="middle" font-size="13.3" stroke="#000" stroke-width="0.18">Residuals (m)</text>
<text transform="translate(18.2,274.3) rotate(-90)" text-anchor="middle" font-size="13.6" stroke="#000" stroke-width="0.18">k</text>
<text transform="translate(294.1,271.9) rotate(-90)" text-anchor="middle" font-size="13.6" stroke="#000" stroke-width="0.18">k</text>
<text transform="translate(160.6,377.2) scale(1,1.05)" text-anchor="middle" font-size="13" stroke="#000" stroke-width="0.18">Epochs</text>
<text transform="translate(434.0,377.9) scale(1,1.05)" text-anchor="middle" font-size="13" stroke="#000" stroke-width="0.18">Epochs</text>
<rect x="262.2" y="167.3" width="71" height="48.7" fill="#fff"/>
<line x1="261.7" y1="167.3" x2="333.6" y2="167.3" stroke="#858585" stroke-width="1"/>
<line x1="262.2" y1="166.8" x2="262.2" y2="216.4" stroke="#9a9a9a" stroke-width="1"/>
<line x1="333.2" y1="166.8" x2="333.2" y2="216.4" stroke="#b4b4b4" stroke-width="1.4"/>
<line x1="261.7" y1="216" x2="333.6" y2="216" stroke="#a8a8a8" stroke-width="1.2"/>
<text transform="translate(296.5,197.7) scale(1,1.05)" text-anchor="middle" font-size="13" fill="#ff0000" stroke="#ff0000" stroke-width="0.18">PL4-PL1</text>
</svg>
</body></html>
